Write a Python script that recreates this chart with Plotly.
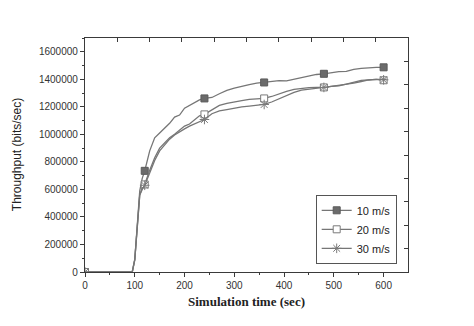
import plotly.graph_objects as go

time_s = [0, 30, 60, 90, 95, 100, 103, 107, 110, 115, 120, 130, 140, 150, 160, 170, 180, 190, 200,
          210, 220, 230, 240, 255, 270, 285, 300, 315, 330, 345, 360, 375, 390, 405, 420, 435,
          450, 465, 480, 495, 510, 525, 540, 555, 570, 585, 600, 605]

thr_10 = [0, 0, 0, 0, 0, 90000, 250000, 450000, 590000, 680000, 735000, 880000, 975000, 1010000,
          1045000, 1080000, 1125000, 1140000, 1190000, 1210000, 1235000, 1250000, 1261000, 1268000,
          1295000, 1320000, 1335000, 1350000, 1362000, 1372000, 1377000, 1385000, 1390000, 1388000,
          1400000, 1415000, 1425000, 1435000, 1440000, 1450000, 1455000, 1458000, 1472000, 1480000,
          1486000, 1487000, 1487000, 1492000]

thr_20 = [0, 0, 0, 0, 0, 90000, 250000, 440000, 560000, 610000, 636000, 740000, 830000, 900000,
          940000, 975000, 1000000, 1030000, 1060000, 1075000, 1105000, 1135000, 1145000, 1180000,
          1210000, 1225000, 1237000, 1245000, 1254000, 1258000, 1261000, 1275000, 1295000, 1312000,
          1326000, 1333000, 1340000, 1341000, 1341000, 1348000, 1353000, 1365000, 1378000, 1392000,
          1396000, 1399000, 1393000, 1400000]

thr_30 = [0, 0, 0, 0, 0, 90000, 250000, 440000, 560000, 600000, 630000, 720000, 810000, 880000,
          925000, 965000, 995000, 1020000, 1040000, 1060000, 1075000, 1092000, 1108000, 1150000,
          1170000, 1180000, 1192000, 1200000, 1205000, 1210000, 1217000, 1235000, 1258000, 1285000,
          1305000, 1322000, 1330000, 1337000, 1341000, 1348000, 1355000, 1362000, 1372000, 1384000,
          1395000, 1399000, 1396000, 1400000]

marker_times = [0, 120, 240, 360, 480, 600]
series_names = ["10 m/s", "20 m/s", "30 m/s"]
x_ticks = [0, 100, 200, 300, 400, 500, 600]

LINE = "#767676"
marker_idx = [i for i, t in enumerate(time_s) if t in marker_times]

styles = [
    dict(symbol="square", size=7, color="#6b6b6b", line=dict(color="#5a5a5a", width=1)),
    dict(symbol="square", size=7, color="white", line=dict(color="#7a7a7a", width=1)),
    dict(symbol="asterisk-open", size=8, color="#7a7a7a", line=dict(color="#7a7a7a", width=1)),
]

fig = go.Figure()
for name, ys, mk in zip(series_names, [thr_10, thr_20, thr_30], styles):
    fig.add_trace(go.Scatter(
        x=time_s, y=ys, mode="lines+markers", name=name,
        line=dict(color=LINE, width=1.3),
        marker=mk,
        selectedpoints=marker_idx,
        selected=dict(marker=dict(opacity=1)),
        unselected=dict(marker=dict(opacity=0)),
    ))

# mirror axes (top/right) with their own tick spacing
fig.add_trace(go.Scatter(x=[], y=[], xaxis="x2", yaxis="y2", showlegend=False))

AX = "#3a3a3a"
fig.update_layout(
    width=474, height=326,
    margin=dict(l=85, r=66, t=38, b=54),
    paper_bgcolor="white", plot_bgcolor="white",
    font=dict(family="Liberation Sans, Arial", size=10, color="#333"),
    xaxis=dict(range=[0, 649], tickvals=x_ticks,
               ticks="outside", ticklen=4, tickcolor=AX, showline=True, linecolor=AX, linewidth=1.3,
               showgrid=False, zeroline=False,
               minor=dict(tickvals=[50, 150, 250, 350, 450, 550], ticks="outside", ticklen=2, tickcolor=AX),
               tickfont=dict(size=10)),
    yaxis=dict(range=[0, 1700000], dtick=200000, tickformat="d",
               ticks="outside", ticklen=4, tickcolor=AX, showline=True, linecolor=AX, linewidth=1.3,
               showgrid=False, zeroline=False,
               minor=dict(dtick=100000, ticks="outside", ticklen=2, tickcolor=AX),
               tickfont=dict(size=10)),
    xaxis2=dict(overlaying="x", side="top", anchor="y2", range=[0, 10], dtick=1, ticks="inside",
                ticklen=4, tickcolor=AX, showline=True, linecolor=AX, linewidth=1.3,
                showticklabels=False, showgrid=False, zeroline=False),
    yaxis2=dict(overlaying="y", side="right", anchor="x2", range=[0, 10], dtick=1, ticks="inside",
                ticklen=4, tickcolor=AX, showline=True, linecolor=AX, linewidth=1.3,
                showticklabels=False, showgrid=False, zeroline=False),
    legend=dict(x=0.965, y=0.035, xanchor="right", yanchor="bottom",
                bgcolor="white", bordercolor="#555", borderwidth=1,
                font=dict(family="Liberation Sans, Arial", size=11, color="#222"),
                itemwidth=30, tracegroupgap=0),
    annotations=[
        dict(text="Throughput (bits/sec)", xref="paper", yref="paper", x=-0.21, y=0.5,
             xanchor="center", yanchor="middle", textangle=-90, showarrow=False,
             font=dict(family="Liberation Sans, Arial", size=12, color="#222")),
        dict(text="<b>Simulation time (sec)</b>", xref="paper", yref="paper", x=0.5, y=-0.085,
             xanchor="center", yanchor="top", showarrow=False,
             font=dict(family="Liberation Serif, Times New Roman", size=13, color="#222")),
    ],
)

fig.write_html("out.html")
